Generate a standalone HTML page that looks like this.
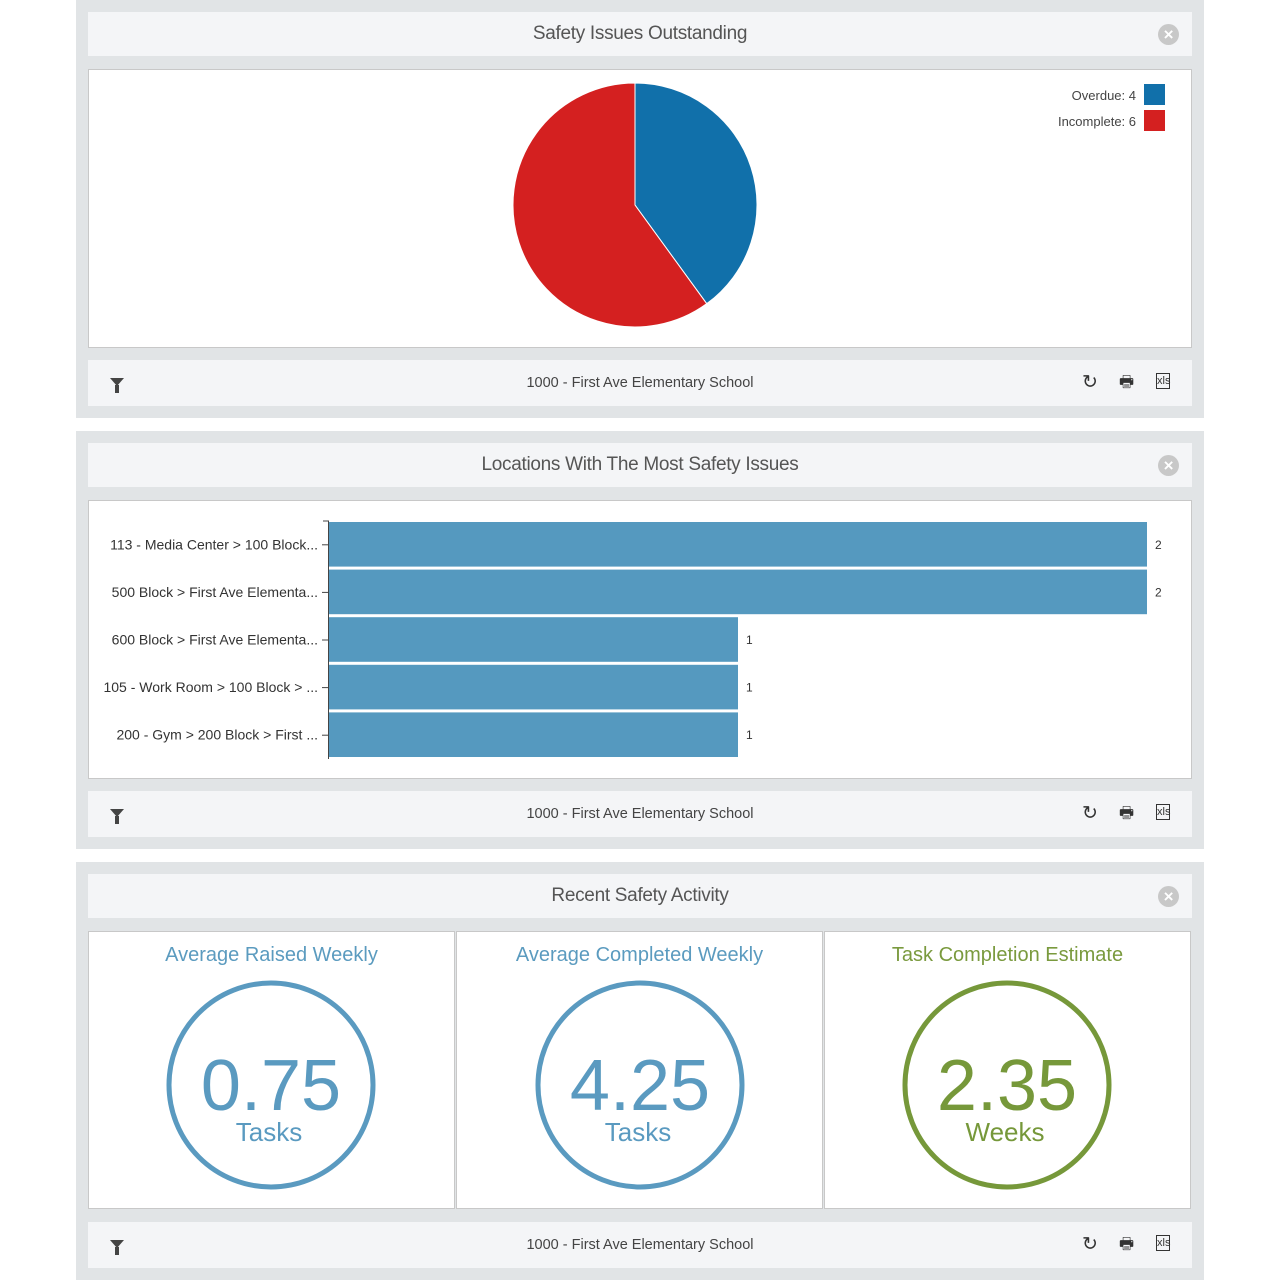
<!DOCTYPE html>
<html><head><meta charset="utf-8">
<style>
body{margin:0;width:1280px;height:1280px;background:#fff;position:relative;font-family:"Liberation Sans",sans-serif;overflow:hidden}
.abs{position:absolute}
.panel{position:absolute;left:76px;width:1128px;height:418px;background:#e1e4e6}
.title{position:absolute;left:12px;top:12px;width:1104px;height:44px;background:#f4f5f7;text-align:center;line-height:44px;font-size:19px;color:#555;letter-spacing:-0.3px}
.close{position:absolute;right:13px;top:12px;width:21px;height:21px;border-radius:50%;background:#c8c8c8;color:#fff;font-size:17px;line-height:21px;text-align:center;font-weight:bold}
.box{position:absolute;left:12px;top:69px;width:1102px;height:277px;background:#fff;border:1px solid #c8c8c8}
.footer{position:absolute;left:12px;top:360px;width:1104px;height:46px;background:#f4f5f7;font-size:14.5px;color:#444;text-align:center;line-height:46px}
.filter{position:absolute;left:22px;top:18px;width:0;height:0;border-left:7px solid transparent;border-right:7px solid transparent;border-top:8px solid #444}
.filter:after{content:"";position:absolute;left:-2px;top:-1px;width:4px;height:8px;background:#444}
.ic{position:absolute;top:0;font-size:19px;color:#333}
.stat{position:absolute;top:69px;width:365px;height:276px;background:#fff;border:1px solid #c8c8c8}
.stat .lbl{position:absolute;top:12px;width:100%;text-align:center;font-size:20px}
</style></head><body>

<!-- Panel 1 -->
<div class="panel" style="top:0">
  <div class="title">Safety Issues Outstanding<div class="close">×</div></div>
  <div class="box">
    <svg id="pie" width="1102" height="277"></svg>
  </div>
  <div class="footer">
    <div class="filter"></div>1000 - First Ave Elementary School
    <div class="ic" style="left:994px">↻</div>
    <div class="ic" style="left:1031px;font-size:16px">🖶</div>
    <div class="ic" style="left:1068px;font-size:11px;border:1px solid #333;width:12px;height:14px;top:13px;line-height:14px;text-align:center">xls</div>
  </div>
</div>

<!-- Panel 2 -->
<div class="panel" style="top:431px">
  <div class="title">Locations With The Most Safety Issues<div class="close">×</div></div>
  <div class="box">
    <svg id="bar" width="1102" height="277"></svg>
  </div>
  <div class="footer">
    <div class="filter"></div>1000 - First Ave Elementary School
    <div class="ic" style="left:994px">↻</div>
    <div class="ic" style="left:1031px;font-size:16px">🖶</div>
    <div class="ic" style="left:1068px;font-size:11px;border:1px solid #333;width:12px;height:14px;top:13px;line-height:14px;text-align:center">xls</div>
  </div>
</div>

<!-- Panel 3 -->
<div class="panel" style="top:862px">
  <div class="title">Recent Safety Activity<div class="close">×</div></div>
  <div class="stat" style="left:12px">
    <div class="lbl" style="color:#5b9bbf">Average Raised Weekly</div>
    <svg class="abs" style="left:0;top:0" width="365" height="276"><circle cx="182" cy="153" r="102" fill="none" stroke="#5a9ac0" stroke-width="5"/>
    <text x="182" y="178" text-anchor="middle" font-size="72" fill="#5a9ac0" font-family="Liberation Sans">0.75</text>
    <text x="180" y="209" text-anchor="middle" font-size="26" fill="#5a9ac0" font-family="Liberation Sans">Tasks</text></svg>
  </div>
  <div class="stat" style="left:380px">
    <div class="lbl" style="color:#5b9bbf">Average Completed Weekly</div>
    <svg class="abs" style="left:0;top:0" width="365" height="276"><circle cx="183" cy="153" r="102" fill="none" stroke="#5a9ac0" stroke-width="5"/>
    <text x="183" y="178" text-anchor="middle" font-size="72" fill="#5a9ac0" font-family="Liberation Sans">4.25</text>
    <text x="181" y="209" text-anchor="middle" font-size="26" fill="#5a9ac0" font-family="Liberation Sans">Tasks</text></svg>
  </div>
  <div class="stat" style="left:748px">
    <div class="lbl" style="color:#7a9a3e">Task Completion Estimate</div>
    <svg class="abs" style="left:0;top:0" width="365" height="276"><circle cx="182" cy="153" r="102" fill="none" stroke="#76983a" stroke-width="5"/>
    <text x="182" y="178" text-anchor="middle" font-size="72" fill="#76983a" font-family="Liberation Sans">2.35</text>
    <text x="180" y="209" text-anchor="middle" font-size="26" fill="#76983a" font-family="Liberation Sans">Weeks</text></svg>
  </div>
  <div class="footer">
    <div class="filter"></div>1000 - First Ave Elementary School
    <div class="ic" style="left:994px">↻</div>
    <div class="ic" style="left:1031px;font-size:16px">🖶</div>
    <div class="ic" style="left:1068px;font-size:11px;border:1px solid #333;width:12px;height:14px;top:13px;line-height:14px;text-align:center">xls</div>
  </div>
</div>

<script>
const pieLabels = ["Overdue", "Incomplete"];
const pieValues = [4, 6];
const pieColors = ["#1170aa", "#d42020"];

const barCategories = ["113 - Media Center > 100 Block...", "500 Block > First Ave Elementa...", "600 Block > First Ave Elementa...", "105 - Work Room > 100 Block > ...", "200 - Gym > 200 Block > First ..."];
const barValues = [2, 2, 1, 1, 1];

const NS = "http://www.w3.org/2000/svg";
function mk(tag, attrs, parent){const e=document.createElementNS(NS,tag);for(const k in attrs)e.setAttribute(k,attrs[k]);parent.appendChild(e);return e;}

// Pie
(function(){
  const svg=document.getElementById('pie');
  const cx=546, cy=135, r=122;
  const total=pieValues.reduce((a,b)=>a+b,0);
  let a0=0;
  pieValues.forEach((v,i)=>{
    const a1=a0+v/total*2*Math.PI;
    const x0=cx+r*Math.sin(a0), y0=cy-r*Math.cos(a0);
    const x1=cx+r*Math.sin(a1), y1=cy-r*Math.cos(a1);
    const large=(a1-a0)>Math.PI?1:0;
    const p=mk('path',{d:`M${cx},${cy} L${x0.toFixed(2)},${y0.toFixed(2)} A${r},${r} 0 ${large} 1 ${x1.toFixed(2)},${y1.toFixed(2)} Z`,fill:pieColors[i],stroke:'#fff','stroke-width':1},svg);
    
    
    a0=a1;
    const ly=25+i*26;
    const t=mk('text',{x:1047,y:ly+5,'text-anchor':'end','font-size':13,fill:'#444','font-family':'Liberation Sans'},svg);
    t.textContent=pieLabels[i]+': '+v;
    
    
    const sw=mk('rect',{x:1055,y:ly-11,width:21,height:21,fill:pieColors[i]},svg);
    
    
  });
})();

// Bars
(function(){
  const svg=document.getElementById('bar');
  const x0=240, unit=409, top=20, band=47.6;
  mk('line',{x1:x0-0.5,y1:top,x2:x0-0.5,y2:top+band*barCategories.length,stroke:'#444','stroke-width':1},svg);
  mk('line',{x1:x0-6,y1:top,x2:x0,y2:top,stroke:'#444'},svg);
  barCategories.forEach((c,i)=>{
    const y=top+i*band;
    const b=mk('rect',{x:x0,y:y+1,width:barValues[i]*unit,height:band-3,fill:'#5599bf'},svg);
    
    
    const yc=y+band/2;
    mk('line',{x1:x0-7,y1:yc,x2:x0,y2:yc,stroke:'#444'},svg);
    const t=mk('text',{x:x0-11,y:yc+4.5,'text-anchor':'end','font-size':14,fill:'#333','font-family':'Liberation Sans'},svg);
    t.textContent=c;
    
    
    const v=mk('text',{x:x0+barValues[i]*unit+8,y:yc+4,'font-size':12,fill:'#333','font-family':'Liberation Sans'},svg);
    v.textContent=barValues[i];
    
    
  });
})();
</script>
</body></html>
